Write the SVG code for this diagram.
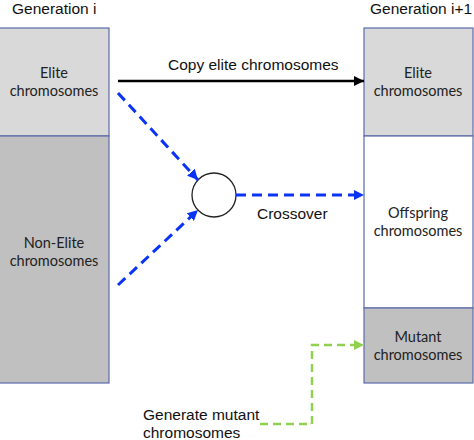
<svg xmlns="http://www.w3.org/2000/svg" width="474" height="440" viewBox="0 0 474 440">
<defs>
<style>
.box{stroke:#5b6aa8;stroke-width:1.2}
.lt{fill:#d9d9d9}
.dk{fill:#c0c0c0}
.wh{fill:#ffffff}
.bt{font-family:Lato,"Open Sans",sans-serif;font-size:14.5px;fill:#222;text-anchor:middle}
.at{font-family:"Liberation Sans",Arial,sans-serif;font-size:15.5px;fill:#111}
.blue{stroke:#0a34f5;stroke-width:3;stroke-dasharray:10,6;fill:none}
.green{stroke:#92d050;stroke-width:2.5;stroke-dasharray:8,5;fill:none}
</style>
<marker id="ab" viewBox="0 0 10 10" refX="10" refY="5" markerWidth="4" markerHeight="4" orient="auto" markerUnits="strokeWidth"><path d="M0,0L10,5L0,10z" fill="#000"/></marker>
<marker id="abl" viewBox="0 0 10 10" refX="10" refY="5" markerWidth="3.5" markerHeight="3.5" orient="auto" markerUnits="strokeWidth"><path d="M0,0L10,5L0,10z" fill="#0a34f5"/></marker>
<marker id="agr" viewBox="0 0 10 10" refX="10" refY="5" markerWidth="4" markerHeight="4" orient="auto" markerUnits="strokeWidth"><path d="M0,0L10,5L0,10z" fill="#92d050"/></marker>
</defs>
<rect width="474" height="440" fill="#fff"/>
<text class="at" x="12" y="14">Generation i</text>
<text class="at" x="370" y="14">Generation i+1</text>
<g id="left-elite"><rect class="box lt" x="-1" y="28" width="110" height="108"/><text class="bt" x="54" y="78">Elite</text><text class="bt" x="54" y="96">chromosomes</text></g>
<g id="left-nonelite"><rect class="box dk" x="-1" y="136" width="110" height="247"/><text class="bt" x="54" y="248">Non-Elite</text><text class="bt" x="54" y="266">chromosomes</text></g>
<g id="right-elite"><rect class="box lt" x="364" y="28" width="109" height="108"/><text class="bt" x="418" y="78">Elite</text><text class="bt" x="418" y="96">chromosomes</text></g>
<g id="right-offspring"><rect class="box wh" x="364" y="136" width="109" height="172"/><text class="bt" x="418" y="218">Offspring</text><text class="bt" x="418" y="236">chromosomes</text></g>
<g id="right-mutant"><rect class="box dk" x="364" y="308" width="109" height="75"/><text class="bt" x="418" y="342">Mutant</text><text class="bt" x="418" y="360">chromosomes</text></g>
<g id="crossover-node"><circle cx="214" cy="195" r="22" fill="#fff" stroke="#222" stroke-width="1.3"/></g>
<g id="connectors">
<line x1="118" y1="81" x2="364" y2="81" stroke="#000" stroke-width="2.5" marker-end="url(#ab)"/>
<text class="at" x="168" y="70">Copy elite chromosomes</text>
<line class="blue" x1="118" y1="93" x2="198" y2="180" marker-end="url(#abl)"/>
<line class="blue" x1="118" y1="285" x2="198" y2="210" marker-end="url(#abl)"/>
<line class="blue" x1="236" y1="195" x2="364" y2="195" marker-end="url(#abl)"/>
<text class="at" x="257" y="219">Crossover</text>
<polyline class="green" points="260,424 312,424 312,345 364,345" marker-end="url(#agr)"/>
<text class="at" x="143" y="420">Generate mutant</text>
<text class="at" x="143" y="438">chromosomes</text>
</g>
</svg>
